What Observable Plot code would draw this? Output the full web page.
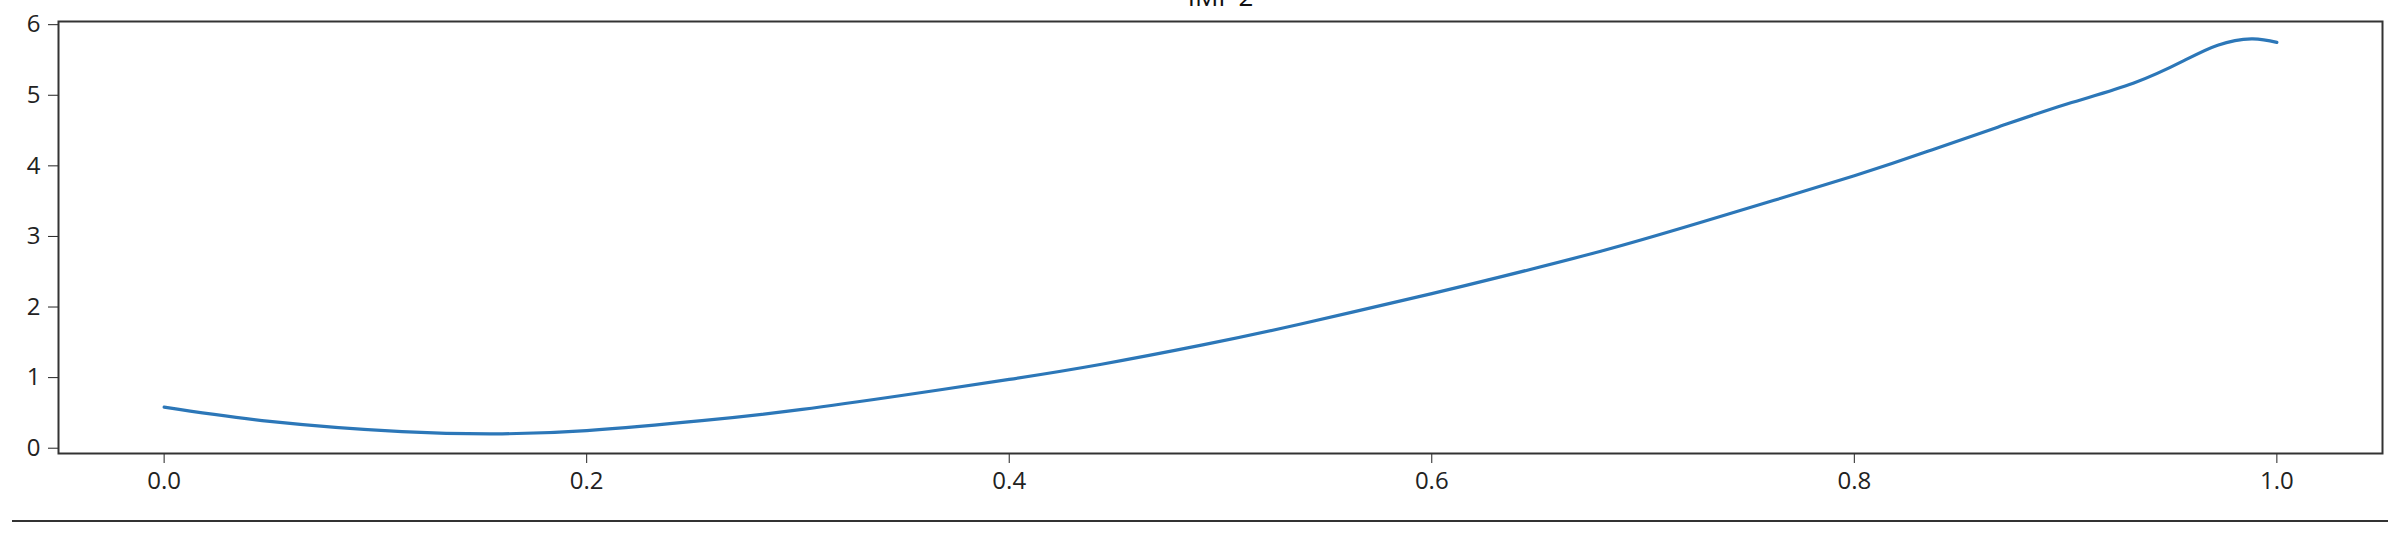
<!DOCTYPE html>
<html>
<head>
<meta charset="utf-8">
<script src="https://cdn.jsdelivr.net/npm/d3@7"></script>
<script src="https://cdn.jsdelivr.net/npm/@observablehq/plot@0.6"></script>
<style>
  html, body { margin: 0; padding: 0; background: #fff; }
  #wrap { position: relative; width: 2400px; height: 546px; overflow: hidden; font-family: "Open Sans", "Noto Sans", sans-serif; }
  #nextAxis { position: absolute; left: 12px; top: 520px; width: 2376px; height: 0; border-top: 2px solid #333; }
</style>
</head>
<body>
<div id="wrap"><div id="nextAxis"></div></div>
<script>
const title = "IMF 2";
const xValues = [0, 0.05, 0.1126, 0.16, 0.2, 0.2545, 0.302, 0.349, 0.4, 0.4437, 0.491, 0.538, 0.6, 0.633, 0.68, 0.7275, 0.8, 0.838, 0.869, 0.901, 0.932, 0.956, 0.972, 0.988, 1.0];
const yValues = [0.581, 0.38, 0.235, 0.204, 0.25, 0.39, 0.55, 0.747, 0.975, 1.19, 1.46, 1.76, 2.19, 2.43, 2.79, 3.20, 3.86, 4.24, 4.56, 4.88, 5.17, 5.49, 5.71, 5.80, 5.75];
const xTicks = [0, 0.2, 0.4, 0.6, 0.8, 1.0];
const yTicks = [0, 1, 2, 3, 4, 5, 6];

const data = xValues.map((x, i) => ({x, y: yValues[i]}));

const chart = Plot.plot({
  width: 2400,
  height: 546,
  marginLeft: 58,
  marginRight: 18,
  marginTop: 21,
  marginBottom: 93,
  style: { fontSize: "24px", fontFamily: "'Open Sans', 'Noto Sans', sans-serif", color: "#222", background: "transparent", overflow: "visible" },
  x: { domain: [-0.05, 1.05] },
  y: { domain: [-0.075, 6.045] },
  marks: [
    Plot.axisX({ticks: xTicks, tickFormat: d3.format(".1f"), tickSize: 10, tickPadding: 8, tickStrokeWidth: 1.8, stroke: "#222", label: null, fontSize: 24}),
    Plot.axisY({ticks: yTicks, tickFormat: d3.format("d"), tickSize: 10, tickPadding: 8, tickStrokeWidth: 1.8, stroke: "#222", label: null, fontSize: 24}),
    Plot.line(data, {x: "x", y: "y", stroke: "#2c77b8", strokeWidth: 3.2, curve: "natural"}),
    Plot.frame({stroke: "#333", strokeWidth: 2}),
    Plot.text([title], {frameAnchor: "top", dy: -16, lineAnchor: "bottom", fontSize: 26, fill: "#111", clip: false})
  ]
});
chart.style.position = "absolute";
chart.style.left = "0";
chart.style.top = "0";
document.getElementById("wrap").appendChild(chart);
</script>
</body>
</html>
